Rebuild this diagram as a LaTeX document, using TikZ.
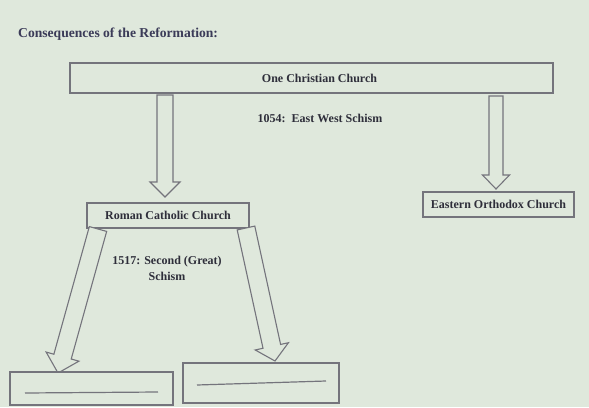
\documentclass[tikz,border=0pt]{standalone}
\usepackage{fontspec}
\setmainfont{Liberation Serif}
\usetikzlibrary{calc}
\definecolor{bg}{HTML}{DFE8DC}
\definecolor{ln}{HTML}{74747C}
\definecolor{tx}{HTML}{2E2E3A}
\definecolor{ttl}{HTML}{3B3B58}
\tikzset{
  box/.style={draw=ln, line width=1.1pt, fill=bg, inner sep=0pt, text=tx, font=\bfseries\fontsize{12}{14}\selectfont},
  lbl/.style={text=tx, font=\bfseries\fontsize{12}{16}\selectfont, align=center, inner sep=0pt},
  blk/.style={draw=ln, line width=1.1pt, fill=bg, line join=miter},
  blank/.style={draw=ln, line width=1.2pt}
}
% block arrow from (#1) to tip (#2); half shaft #3, half head #4, head length #5
\newcommand{\blockarrow}[5]{%
  \coordinate (ba-b) at ($(#2)!#5!(#1)$);
  \draw[blk] ($(#1)!#3!90:(#2)$) -- ($(ba-b)!#3!90:(#2)$) -- ($(ba-b)!#4!90:(#2)$)
     -- (#2) -- ($(ba-b)!#4!-90:(#2)$) -- ($(ba-b)!#3!-90:(#2)$)
     -- ($(#1)!#3!-90:(#2)$) -- cycle;
}
\begin{document}
\begin{tikzpicture}[x=1pt,y=-1pt]
\fill[bg] (0,0) rectangle (589,407);
\useasboundingbox (0,0) rectangle (589,407);

\node[anchor=base west, text=ttl, font=\bfseries\fontsize{13.6}{16}\selectfont, inner sep=0pt] (title) at (18,37) {Consequences of the Reformation:};

\node[box, minimum width=483pt, minimum height=30pt] (one) at (311.5,78) {\hspace*{16pt}One Christian Church};
\node[lbl] (s1054) at (320,118) {1054:\ \ East West Schism};

\node[box, minimum width=162pt, minimum height=25pt] (rcc) at (168,215.5) {Roman Catholic Church};
\node[box, minimum width=151pt, minimum height=25pt] (eoc) at (498.5,204.5) {Eastern Orthodox Church};

\node[lbl] (s1517) at (167,268) {1517: Second (Great)\\Schism};

% vertical arrows
\coordinate (a1s) at (165,95);
\coordinate (a1t) at (165,197);
\blockarrow{a1s}{a1t}{8pt}{15pt}{15pt}
\coordinate (a2s) at (496,96);
\coordinate (a2t) at (496,189);
\blockarrow{a2s}{a2t}{7pt}{13.5pt}{14pt}
% slanted arrows
\coordinate (a3s) at (98,229);
\coordinate (a3t) at (58,373);
\blockarrow{a3s}{a3t}{9pt}{17pt}{17pt}
\coordinate (a4s) at (246,228);
\coordinate (a4t) at (275,361);
\blockarrow{a4s}{a4t}{9pt}{17pt}{15pt}

% bottom blank boxes
\node[box, minimum width=163pt, minimum height=33pt] (b1) at (91.5,388.5) {};
\node[box, minimum width=156pt, minimum height=40pt] (b2) at (261,383) {};
\coordinate (l1a) at (25,393);
\coordinate (l1b) at (158,392);
\draw[blank] (l1a) -- (l1b);
\coordinate (l2a) at (197,385);
\coordinate (l2b) at (326,381);
\draw[blank] (l2a) -- (l2b);
\end{tikzpicture}
\end{document}
